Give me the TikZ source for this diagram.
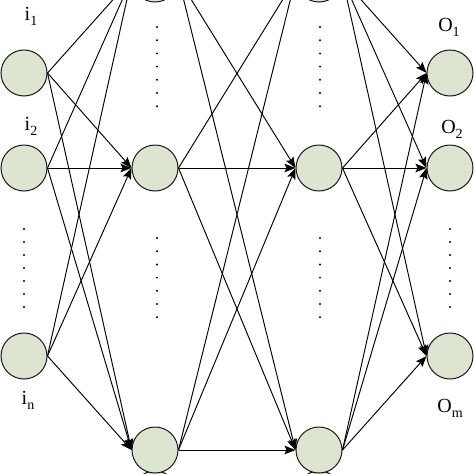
\documentclass[tikz,border=0pt]{standalone}
\usepackage{fontspec}
\setmainfont{Liberation Serif}
\usetikzlibrary{arrows.meta}
\definecolor{nodefill}{RGB}{221,228,207}
\tikzset{
  neuron/.style={circle,draw=black!90,fill=nodefill,line width=1pt,minimum size=46pt,inner sep=0pt},
  conn/.style={line width=0.95pt,-{Stealth[length=11pt,width=8.5pt,inset=2pt]}},
  lbl/.style={font=\fontsize{20}{20}\selectfont,inner sep=0pt},
}
\newcommand{\sublabel}[2]{#1\raisebox{-5pt}{\fontsize{14}{14}\selectfont #2}}
\begin{document}
\begin{tikzpicture}[x=1pt,y=-1pt]
\useasboundingbox (0,0) rectangle (474,474);
\clip (0,0) rectangle (474,474);
% partial shapes below bottom hidden nodes
\node[neuron] (x1) at (155,494) {};
\node[neuron] (x2) at (319,494) {};
% input layer
\node[neuron] (i1) at (24,73) {};
\node[neuron] (i2) at (24,168) {};
\node[neuron] (in) at (24,356) {};
% hidden layer 1
\node[neuron] (a1) at (155,-21) {};
\node[neuron] (a2) at (155,168) {};
\node[neuron] (a3) at (155,450) {};
% hidden layer 2
\node[neuron] (b1) at (319,-21) {};
\node[neuron] (b2) at (319,168) {};
\node[neuron] (b3) at (319,450) {};
% output layer
\node[neuron] (o1) at (450,73) {};
\node[neuron] (o2) at (450,168) {};
\node[neuron] (om) at (450,356) {};
% labels
\node[lbl] (li1) at (31,16) {\sublabel{i}{1}};
\node[lbl] (li2) at (31,126) {\sublabel{i}{2}};
\node[lbl] (lin) at (28,400) {\sublabel{i}{n}};
\node[lbl] (lo1) at (449,27) {\sublabel{O}{1}};
\node[lbl] (lo2) at (452,129) {\sublabel{O}{2}};
\node[lbl] (lom) at (450,408) {\sublabel{O}{m}};
% connections
\foreach \s in {i1,i2,in}{
  \foreach \t in {a1,a2,a3}{
    \draw[conn] (\s.east) -- (\t.west);
  }
}
\foreach \s in {a1,a2,a3}{
  \foreach \t in {b1,b2,b3}{
    \draw[conn] (\s.east) -- (\t.west);
  }
}
\foreach \s in {b1,b2,b3}{
  \foreach \t in {o1,o2,om}{
    \draw[conn] (\s.east) -- (\t.west);
  }
}
% external inputs and outputs
\foreach \n/\yy in {i1/73,i2/168,in/356}{
  \coordinate (src\n) at (-40,\yy);
  \draw[conn] (src\n) -- (\n.west);
}
\foreach \n/\yy in {o1/73,o2/168,om/356}{
  \coordinate (dst\n) at (520,\yy);
  \draw[conn] (\n.east) -- (dst\n);
}
% dotted ellipses
\foreach \k in {0,...,6}{
  \fill (24,229+13*\k) circle (1.1pt);
  \fill (450,229+13*\k) circle (1.1pt);
  \fill (157,27+13.2*\k) circle (1.1pt);
  \fill (157,238+13.2*\k) circle (1.1pt);
  \fill (320,27+13.2*\k) circle (1.1pt);
  \fill (320,238+13.2*\k) circle (1.1pt);
}
\end{tikzpicture}
\end{document}
